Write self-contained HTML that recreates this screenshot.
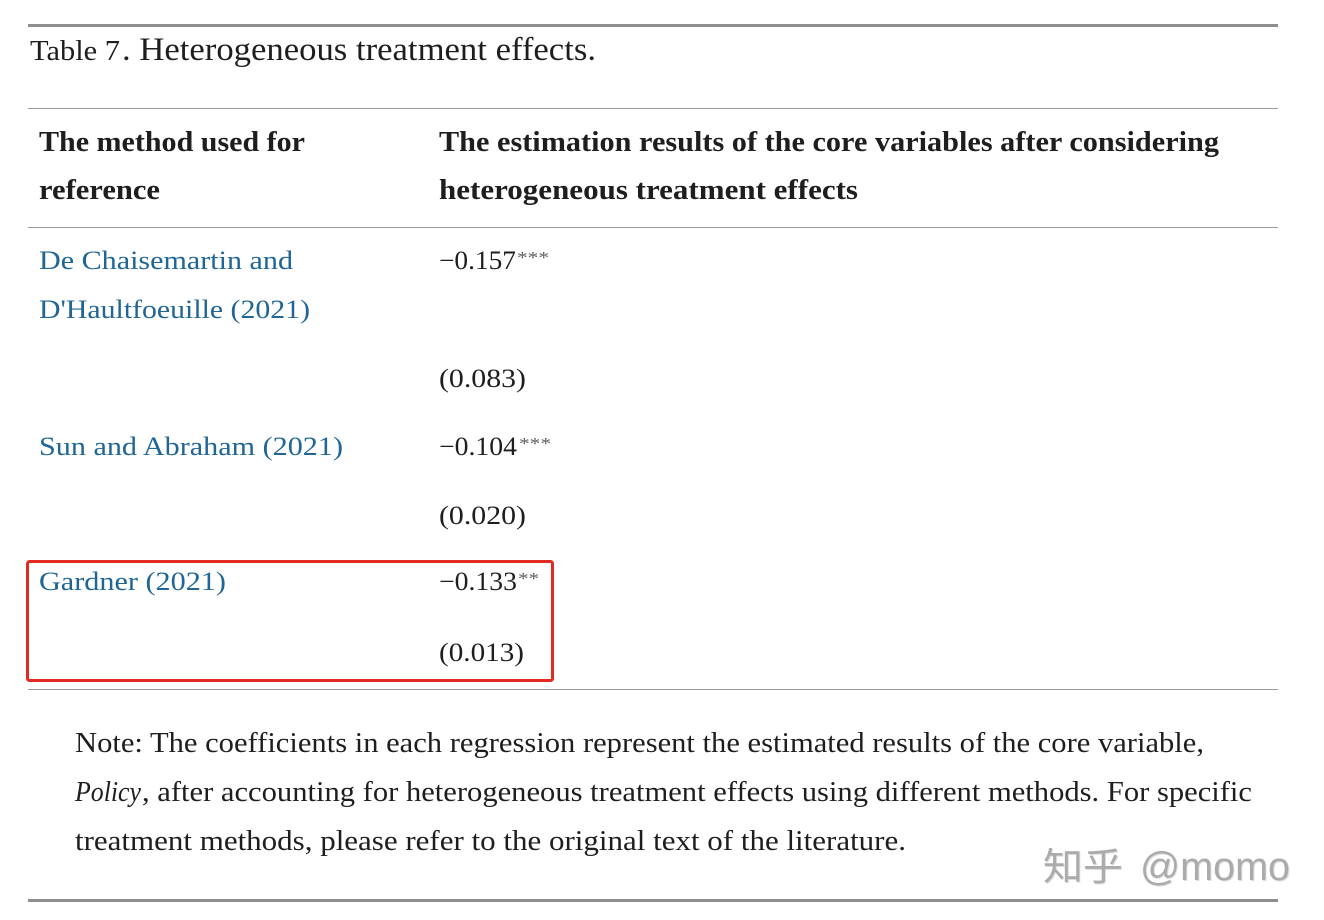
<!DOCTYPE html>
<html>
<head>
<meta charset="utf-8">
<style>
  html, body { margin: 0; padding: 0; background: #ffffff; }
  svg { display: block; }
  .serif { font-family: "Liberation Serif", "Noto Serif CJK SC", serif; }
  .hdr { font-family: "Liberation Serif", serif; font-weight: bold; font-size: 28px; fill: #1e1e1e; }
  .cell { font-family: "Liberation Serif", serif; font-size: 26px; fill: #1e1e1e; }
  .link { font-family: "Liberation Serif", serif; font-size: 26px; fill: #1f6596; }
  .sup { font-family: "Liberation Serif", serif; font-size: 17px; fill: #5a5a5a; }
  .note { font-family: "Liberation Serif", serif; font-size: 28px; fill: #1e1e1e; }
  .wm { font-family: "Liberation Sans", "Noto Sans CJK SC", sans-serif; }
</style>
</head>
<body>
<svg width="1324" height="920" viewBox="0 0 1324 920" xmlns="http://www.w3.org/2000/svg">
  <rect x="0" y="0" width="1324" height="920" fill="#ffffff"/>

  <!-- top thick rule -->
  <rect x="28" y="24" width="1250" height="3" fill="#8e8e8e"/>

  <!-- caption -->
  <text class="serif" x="30" y="60" font-size="28" fill="#1e1e1e" textLength="90" lengthAdjust="spacingAndGlyphs">Table 7</text>
  <text class="serif" x="122" y="60" font-size="33" fill="#1e1e1e" textLength="474" lengthAdjust="spacingAndGlyphs">. Heterogeneous treatment effects.</text>

  <!-- header rules -->
  <rect x="28" y="108" width="1250" height="1" fill="#9a9a9a"/>
  <rect x="28" y="227" width="1250" height="1" fill="#9a9a9a"/>

  <!-- header text -->
  <text class="hdr" x="39" y="151" textLength="266" lengthAdjust="spacingAndGlyphs">The method used for</text>
  <text class="hdr" x="39" y="199" textLength="121" lengthAdjust="spacingAndGlyphs">reference</text>
  <text class="hdr" x="439" y="151" textLength="780" lengthAdjust="spacingAndGlyphs">The estimation results of the core variables after considering</text>
  <text class="hdr" x="439" y="199" textLength="419" lengthAdjust="spacingAndGlyphs">heterogeneous treatment effects</text>

  <!-- row 1 -->
  <text class="link" x="39" y="269" textLength="254" lengthAdjust="spacingAndGlyphs">De Chaisemartin and</text>
  <text class="link" x="39" y="318" textLength="271" lengthAdjust="spacingAndGlyphs">D'Haultfoeuille (2021)</text>
  <text class="cell" x="439" y="269" textLength="77" lengthAdjust="spacingAndGlyphs">&#8722;0.157</text>
  <text class="sup" x="517" y="263" textLength="32" lengthAdjust="spacingAndGlyphs">***</text>
  <text class="cell" x="439" y="387" textLength="87" lengthAdjust="spacingAndGlyphs">(0.083)</text>

  <!-- row 2 -->
  <text class="link" x="39" y="455" textLength="304" lengthAdjust="spacingAndGlyphs">Sun and Abraham (2021)</text>
  <text class="cell" x="439" y="455" textLength="78" lengthAdjust="spacingAndGlyphs">&#8722;0.104</text>
  <text class="sup" x="519" y="449" textLength="32" lengthAdjust="spacingAndGlyphs">***</text>
  <text class="cell" x="439" y="524" textLength="87" lengthAdjust="spacingAndGlyphs">(0.020)</text>

  <!-- row 3 -->
  <text class="link" x="39" y="590" textLength="187" lengthAdjust="spacingAndGlyphs">Gardner (2021)</text>
  <text class="cell" x="439" y="590" textLength="78" lengthAdjust="spacingAndGlyphs">&#8722;0.133</text>
  <text class="sup" x="518" y="584" textLength="21" lengthAdjust="spacingAndGlyphs">**</text>
  <text class="cell" x="439" y="661" textLength="85" lengthAdjust="spacingAndGlyphs">(0.013)</text>

  <!-- red highlight box -->
  <rect x="27.5" y="561.5" width="525" height="119" rx="2" ry="2" fill="none" stroke="#e02a22" stroke-width="3"/>

  <!-- bottom table rule -->
  <rect x="28" y="689" width="1250" height="1" fill="#9a9a9a"/>

  <!-- note -->
  <text class="note" x="75" y="752" textLength="1129" lengthAdjust="spacingAndGlyphs">Note: The coefficients in each regression represent the estimated results of the core variable,</text>
  <text class="note" x="75" y="801" font-style="italic" textLength="66" lengthAdjust="spacingAndGlyphs">Policy</text>
  <text class="note" x="142" y="801" textLength="1110" lengthAdjust="spacingAndGlyphs">, after accounting for heterogeneous treatment effects using different methods. For specific</text>
  <text class="note" x="75" y="850" textLength="831" lengthAdjust="spacingAndGlyphs">treatment methods, please refer to the original text of the literature.</text>

  <!-- watermark -->
  <text class="wm" x="1044" y="881" font-size="38" fill="#dcdcdc" textLength="80" lengthAdjust="spacingAndGlyphs">知乎</text>
  <text class="wm" x="1043" y="880" font-size="38" fill="#ababab" textLength="80" lengthAdjust="spacingAndGlyphs">知乎</text>
  <text class="wm" x="1141" y="881" font-size="40" fill="#dcdcdc" textLength="150" lengthAdjust="spacingAndGlyphs">@momo</text>
  <text class="wm" x="1140" y="880" font-size="40" fill="#ababab" textLength="150" lengthAdjust="spacingAndGlyphs">@momo</text>

  <!-- bottom thick rule -->
  <rect x="28" y="899" width="1250" height="3" fill="#8e8e8e"/>
</svg>
</body>
</html>
